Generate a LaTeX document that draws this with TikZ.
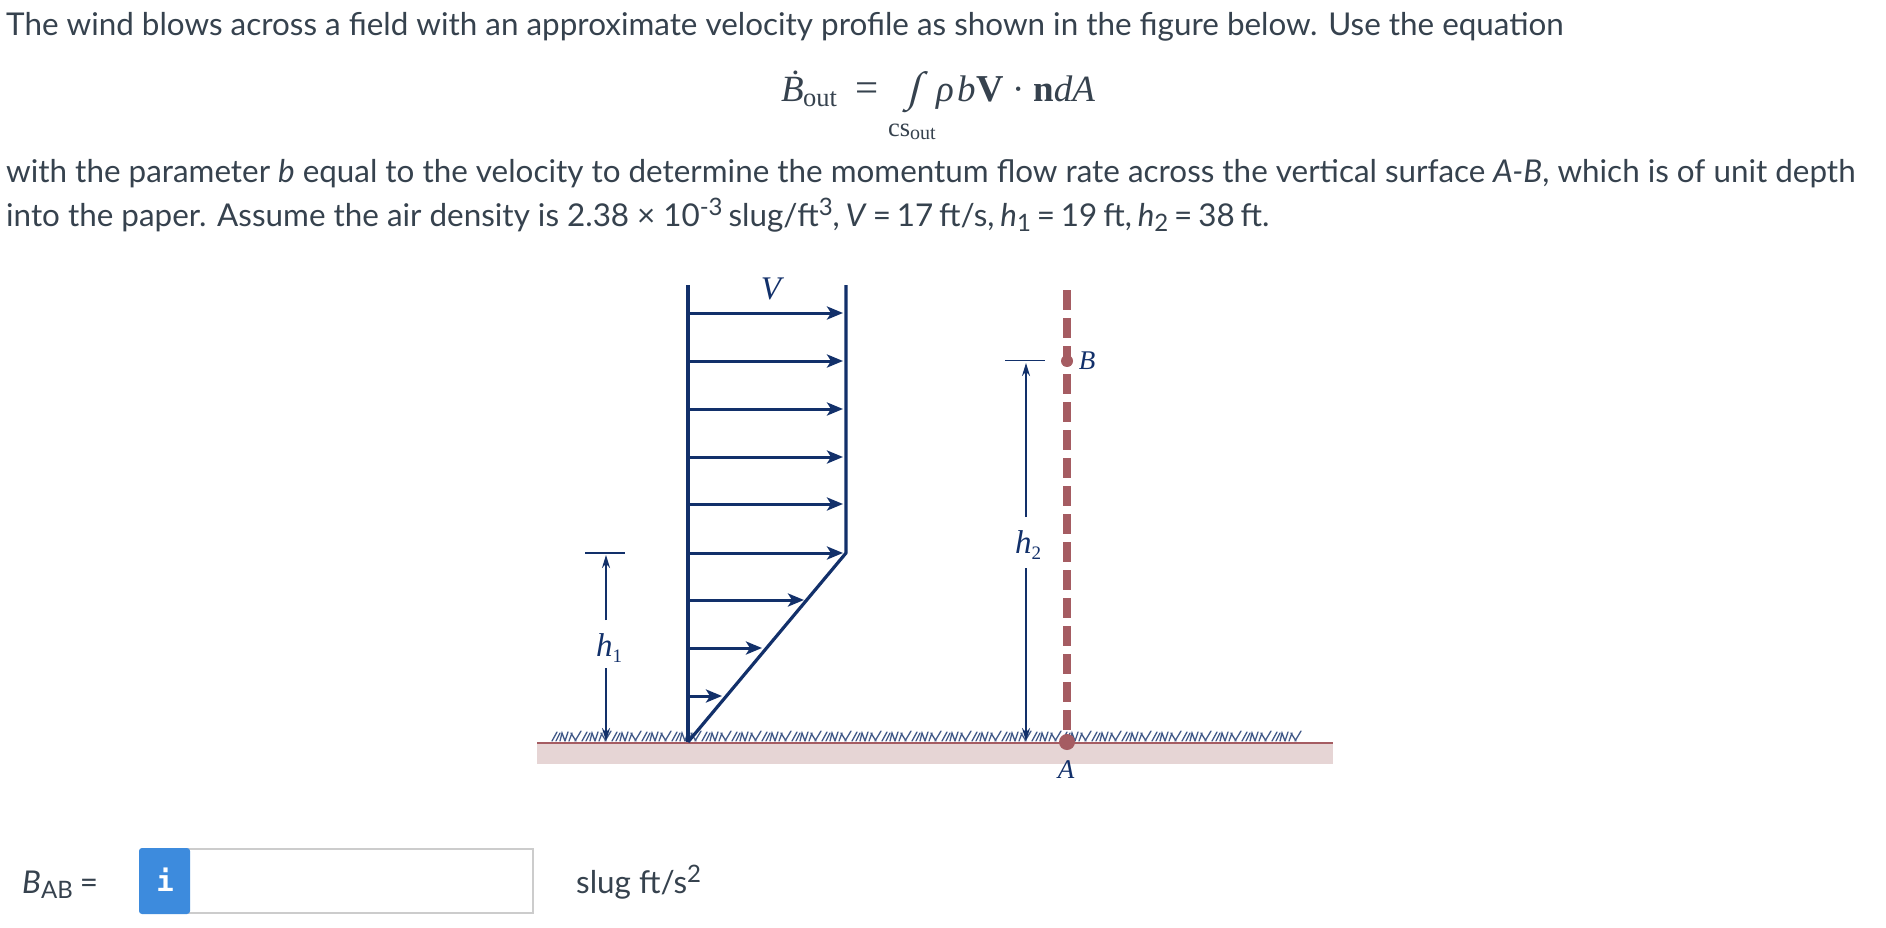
\documentclass[tikz,border=0pt]{standalone}
\usepackage{fontspec}
\usepackage{amsmath}
\setmainfont{Lato}
\newfontfamily\eqfont{Liberation Serif}
\newfontfamily\iconfont{DejaVu Sans Mono}
\usetikzlibrary{arrows.meta}
\definecolor{txt}{HTML}{36424E}
\definecolor{navy}{HTML}{12306A}
\definecolor{brick}{HTML}{A55C62}
\definecolor{soil}{HTML}{E6D5D5}
\definecolor{infoblue}{HTML}{3D8BDD}
\definecolor{boxgray}{HTML}{CCCCCC}
\newcommand{\supr}[1]{\raisebox{11pt}{\fontsize{24}{28}\selectfont #1}}
\newcommand{\subr}[1]{\raisebox{-5pt}{\fontsize{24}{28}\selectfont #1}}
\newcommand{\ws}{\hspace{5.9pt}}
\tikzset{
  para/.style={anchor=base west,inner sep=0pt,text=txt,font=\fontsize{31.4}{37}\selectfont},
  eq/.style={anchor=base west,inner sep=0pt,text=txt,font=\eqfont\fontsize{37}{44}\selectfont},
  eqsmall/.style={anchor=base west,inner sep=0pt,text=txt,font=\eqfont\fontsize{26.5}{32}\selectfont},
  figlabel/.style={inner sep=0pt,text=navy,font=\eqfont\itshape\fontsize{33}{38}\selectfont},
  wall/.style={draw=navy,line width=3.2pt},
  wind/.style={draw=navy,line width=3pt,-{Stealth[length=16pt,width=13pt,inset=4pt]}},
  dim/.style={draw=navy,line width=1.8pt},
  dimarrow/.style={draw=navy,line width=1.8pt,-{Stealth[length=13pt,width=8pt]}},
  grass/.style={draw=navy!80,line width=1.3pt,line cap=round},
}
\newcommand{\tuft}[1]{%
  \draw[grass,xshift=#1pt] (0,741) -- (5,732) (4,741) -- (8,733) (8,741) -- (10,733) -- (13,741) (13,741) -- (16,732)
    (17,741) -- (20,733) (19,733) -- (24,741) (23,741) -- (29,731);}
\begin{document}
\begin{tikzpicture}[x=1pt,y=-1pt]
\path[use as bounding box,fill=white] (0,0) rectangle (1886,928);
% text
\node[para] (l1) at (6,36) {The wind blows across a field with an approximate velocity profile as shown in the figure below. Use the equation};
\node[eq] (bdot) at (781,102) {\itshape \.B};
\node[eqsmall] (bsub) at (803,107) {out};
\node[eq,font=\eqfont\fontsize{41}{46}\selectfont] (eqs) at (855,102) {=};
\begin{scope}[shift={(907,101.5)},xslant=.25]
\node[eq,transform shape,font=\eqfont\fontsize{42}{46}\selectfont] (integ) at (0,0) {∫};
\end{scope}
\node[eq] (rho) at (936,102) {\itshape ρ};
\node[eq] (bv) at (957,102) {\itshape b};
\node[eq,font=\eqfont\bfseries\fontsize{38}{44}\selectfont] (vv) at (976,102) {V};
\node[eq] (cdot) at (1012,102) {·};
\node[eq] (nda) at (1033,102) {\bfseries n\mdseries\itshape dA};
\node[eqsmall] (cs) at (888,137) {cs};
\node[eqsmall,font=\eqfont\fontsize{20}{24}\selectfont] (csout) at (910,140) {out};
\node[para] (l3) at (6,182.5) {with the parameter \textit{b} equal to the velocity to determine the momentum flow rate across the vertical surface \textit{A-B}, which is of unit depth};
\node[para] (l4) at (6,226) {into the paper. Assume the air density is 2.38 × 10\supr{-3}\ws slug/ft\supr{3},\ws\textit{V}\ws=\ws17\ws ft/s,\ws\textit{h}\subr{1}\ws=\ws19\ws ft,\ws\textit{h}\subr{2}\ws=\ws38\ws ft.};
% ground
\path[fill=soil] (537,742) rectangle (1333,764);
\foreach \g in {552,582,...,1300}{\tuft{\g}}
\coordinate (gl) at (537,743); \coordinate (gr) at (1333,743);
\draw[brick,line width=1.8pt] (gl) -- (gr);
% profile
\coordinate (lt) at (688,285); \coordinate (lb) at (688,742);
\coordinate (rt) at (846,285); \coordinate (rb) at (846,553);
\draw[wall] (lt) -- (lb);
\draw[wall,line join=round] (rt) -- (rb) -- (lb);
\foreach \yy in {313,361,409,457,504,553}{
  \coordinate (a) at (688,\yy); \coordinate (b) at (843,\yy);
  \draw[wind] (a) -- (b);}
\foreach \yy/\xx in {600/804,648/762,696/722}{
  \coordinate (a) at (688,\yy); \coordinate (b) at (\xx,\yy);
  \draw[wind] (a) -- (b);}
\node[figlabel] (V) at (771,289) {V};
% h1
\coordinate (h1l) at (585,553); \coordinate (h1r) at (625,553);
\draw[dim] (h1l) -- (h1r);
\node[figlabel] (h1) at (609,648) {h\raisebox{-6pt}{\fontsize{19}{22}\selectfont\upshape 1}};
\coordinate (h1t) at (606,555); \coordinate (h1m) at (606,620); \coordinate (h1n) at (606,668); \coordinate (h1b) at (606,741);
\draw[dimarrow] (h1m) -- (h1t);
\draw[dimarrow] (h1n) -- (h1b);
% h2
\coordinate (h2l) at (1005,360.5); \coordinate (h2r) at (1045,360.5);
\draw[dim] (h2l) -- (h2r);
\node[figlabel] (h2) at (1028,545) {h\raisebox{-6pt}{\fontsize{19}{22}\selectfont\upshape 2}};
\coordinate (h2t) at (1026,363); \coordinate (h2m) at (1026,517); \coordinate (h2n) at (1026,568); \coordinate (h2b) at (1026,741);
\draw[dimarrow] (h2m) -- (h2t);
\draw[dimarrow] (h2n) -- (h2b);
% control surface
\coordinate (st) at (1067,290); \coordinate (sb) at (1067,742);
\draw[brick,line width=8pt,dash pattern=on 20pt off 8pt] (st) -- (sb);
\node[circle,fill=brick,inner sep=0pt,minimum size=12pt] (dB) at (1067,361) {};
\node[circle,fill=brick,inner sep=0pt,minimum size=16pt] (dA) at (1067,742) {};
\node[figlabel,font=\eqfont\itshape\fontsize{27}{30}\selectfont] (B) at (1087,361) {B};
\node[figlabel,font=\eqfont\itshape\fontsize{27}{30}\selectfont] (A) at (1066,770) {A};
% answer row
\node[para] (bab) at (22,893) {\textit{B}\subr{AB}\hspace{7pt}=};
\draw[boxgray,line width=2pt,fill=white] (189,849) rectangle (533,913);
\path[fill=infoblue,rounded corners=3pt] (190,848) -- (139,848) -- (139,914) -- (190,914) -- cycle;
\node[inner sep=0pt,text=white,font=\iconfont\bfseries\fontsize{29}{32}\selectfont] (info) at (165,880) {i};
\node[para] (unit) at (576,893) {slug ft/s\supr{2}};
\end{tikzpicture}
\end{document}
